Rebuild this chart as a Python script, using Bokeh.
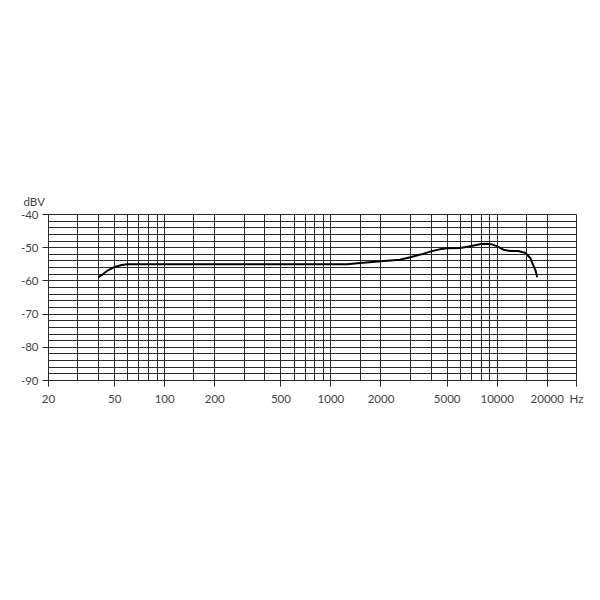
from bokeh.plotting import figure
from bokeh.models import FixedTicker, Title
from bokeh.embed import file_html
from bokeh.resources import INLINE

# Frequency response data (Hz, dBV)
freq = [40, 45, 50, 55, 60, 80, 200, 1000, 1250, 1500, 2000, 2600, 3000, 3500,
        4000, 4500, 5000, 6000, 7000, 8000, 8700, 9300, 10000, 10900, 12000,
        13400, 14800, 15800, 16500, 17000, 17400]
dbv = [-58.9, -57.0, -55.8, -55.2, -55.0, -55.0, -55.0, -55.0, -55.0, -54.6,
       -54.1, -53.6, -52.9, -52.0, -51.1, -50.5, -50.2, -50.1, -49.5, -48.9,
       -48.8, -49.0, -49.6, -50.6, -51.0, -51.0, -51.6, -53.1, -55.3, -56.8, -58.9]

x_tick_labels = [20, 50, 100, 200, 500, 1000, 2000, 5000, 10000, 20000]
x_unit = "Hz"
y_unit = "dBV"
x_grid = [20, 30, 40, 50, 60, 70, 80, 90, 100, 150, 200, 300, 400, 500, 600,
          700, 800, 900, 1000, 1500, 2000, 3000, 4000, 5000, 6000, 7000, 8000,
          9000, 10000, 15000, 20000, 30000]
y_ticks = [-90, -80, -70, -60, -50, -40]
y_grid = list(range(-90, -39, 2))

FONT = "Lato"
FS = "11.5px"
TXT = "#444444"
GRID = "#2a2a2a"
X_MAX = 30000

p = figure(width=584, height=584, x_axis_type="log", x_range=(20, X_MAX),
           y_range=(-90, -40), output_backend="svg", toolbar_location=None,
           min_border_left=48, min_border_right=8, min_border_top=214,
           min_border_bottom=204)

p.line(freq, dbv, line_color="black", line_width=2)

p.xgrid.ticker = FixedTicker(ticks=x_grid)
p.ygrid.ticker = FixedTicker(ticks=y_grid)
for g in (p.xgrid, p.ygrid):
    g.grid_line_color = GRID
    g.grid_line_width = 1
    g.grid_line_alpha = 1.0

# unit label "Hz" sits at the right edge of the x axis, in the tick-label row
p.xaxis.ticker = FixedTicker(ticks=x_tick_labels + [X_MAX], minor_ticks=[])
p.xaxis.major_label_overrides = {**{t: str(t) for t in x_tick_labels}, X_MAX: x_unit}
p.yaxis.ticker = FixedTicker(ticks=y_ticks, minor_ticks=[])
p.yaxis.major_label_overrides = {t: "-%d" % abs(t) for t in y_ticks}

for ax in (p.xaxis, p.yaxis):
    ax.axis_line_color = GRID
    ax.major_tick_line_color = GRID
    ax.major_tick_out = 6
    ax.major_tick_in = 0
    ax.minor_tick_out = 0
    ax.minor_tick_in = 0
    ax.major_label_text_font = FONT
    ax.major_label_text_font_size = FS
    ax.major_label_text_color = TXT
p.xaxis.major_label_standoff = 5
p.yaxis.major_label_standoff = 4

p.outline_line_color = GRID
p.outline_line_width = 1
p.outline_line_alpha = 1.0

p.add_layout(Title(text=y_unit, align="left", offset=-25, standoff=14,
                   text_font=FONT, text_font_size=FS,
                   text_font_style="normal", text_color=TXT), "above")

open("out.html", "w").write(file_html(p, INLINE))
